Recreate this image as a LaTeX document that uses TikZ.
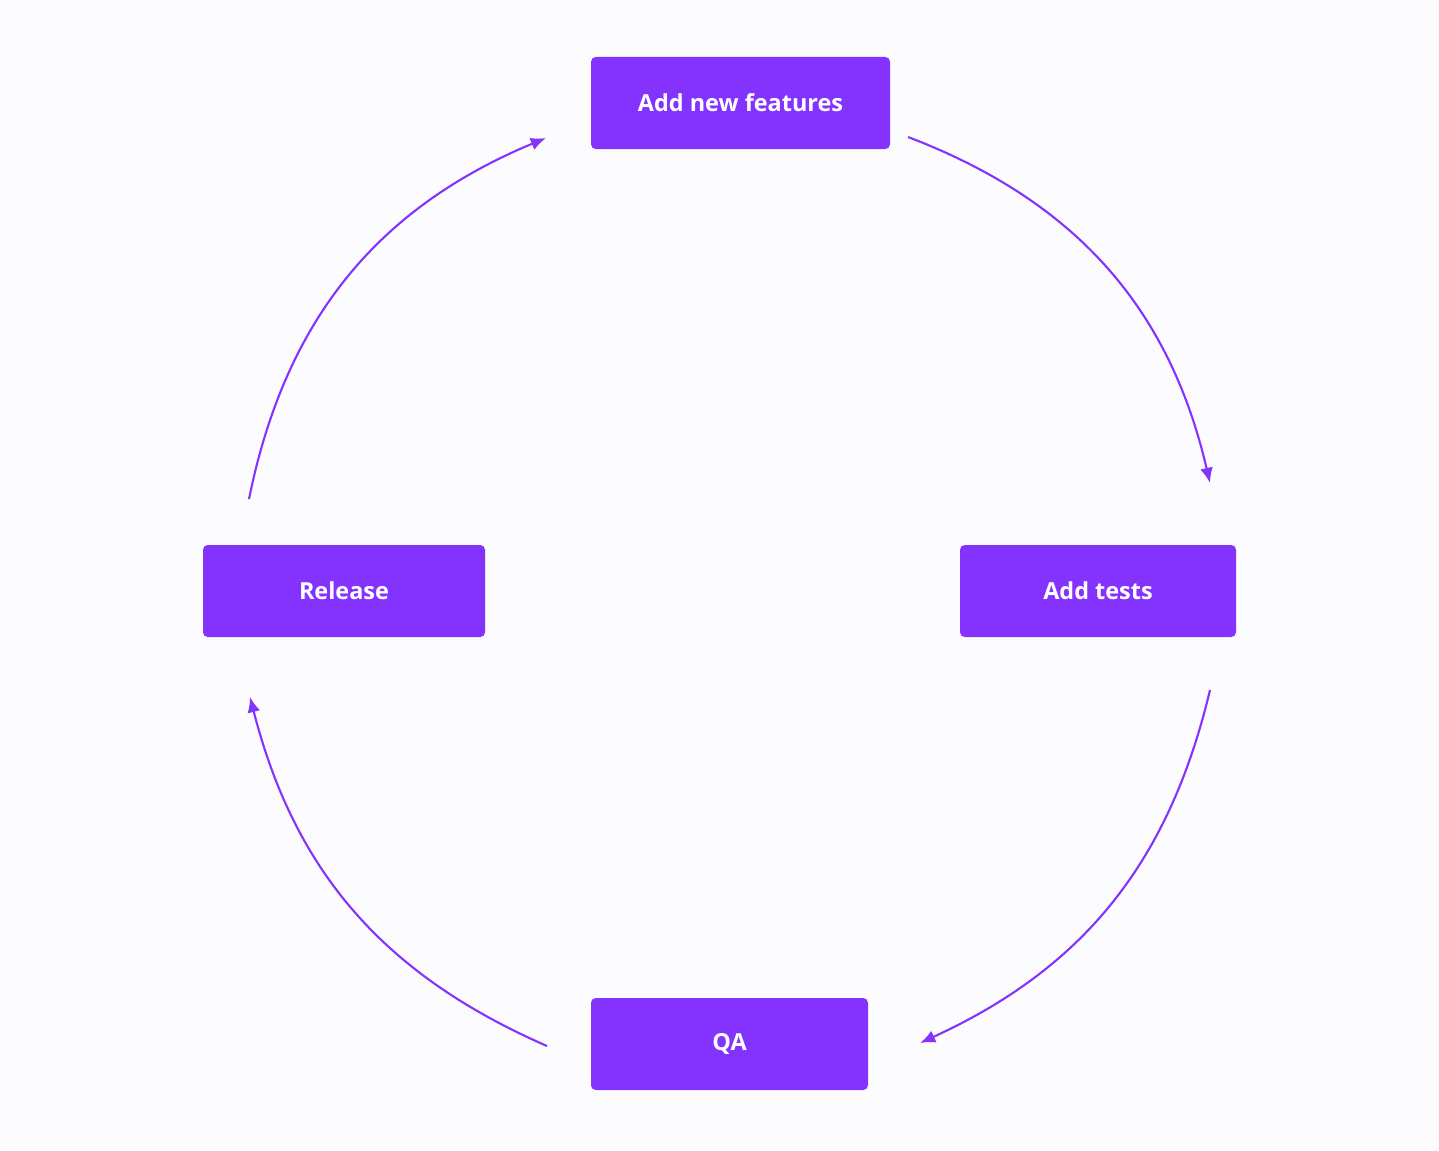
\documentclass[tikz,border=0pt]{standalone}
\usepackage{fontspec}
\setmainfont{Open Sans}
\usetikzlibrary{arrows.meta}
\definecolor{pur}{HTML}{8433FF}
\definecolor{bg}{HTML}{FCFBFE}
\begin{document}
\begin{tikzpicture}[x=0.03cm,y=-0.03cm,
 box/.style={fill=pur,rounded corners=4pt,text=white,font=\fontsize{20}{24}\selectfont\bfseries,inner sep=0pt},
 arr/.style={draw=pur,line width=1.8pt,-{Latex[length=13pt,width=11pt]}}]
\fill[bg] (0,0) rectangle (1439,1150);
\useasboundingbox (0,0) rectangle (1439,1150);
\node[box,minimum width=299*0.03cm,minimum height=92*0.03cm] (f) at (740.5,103) {Add new features};
\node[box,minimum width=282*0.03cm,minimum height=92*0.03cm] (r) at (344,591) {Release};
\node[box,minimum width=276*0.03cm,minimum height=92*0.03cm] (t) at (1098,591) {Add tests};
\node[box,minimum width=277*0.03cm,minimum height=92*0.03cm] (q) at (729.5,1044) {QA};
\coordinate (a1) at (908,137); \coordinate (a2) at (1210,483);
\coordinate (b1) at (1210,690); \coordinate (b2) at (920,1043);
\coordinate (c1) at (547,1046); \coordinate (c2) at (250,697);
\coordinate (d1) at (249,499); \coordinate (d2) at (546,138);
\draw[arr] (a1) to[bend left=28] (a2);
\draw[arr] (b1) to[bend left=26] (b2);
\draw[arr] (c1) to[bend left=26] (c2);
\draw[arr] (d1) to[bend left=28] (d2);
\end{tikzpicture}
\end{document}
